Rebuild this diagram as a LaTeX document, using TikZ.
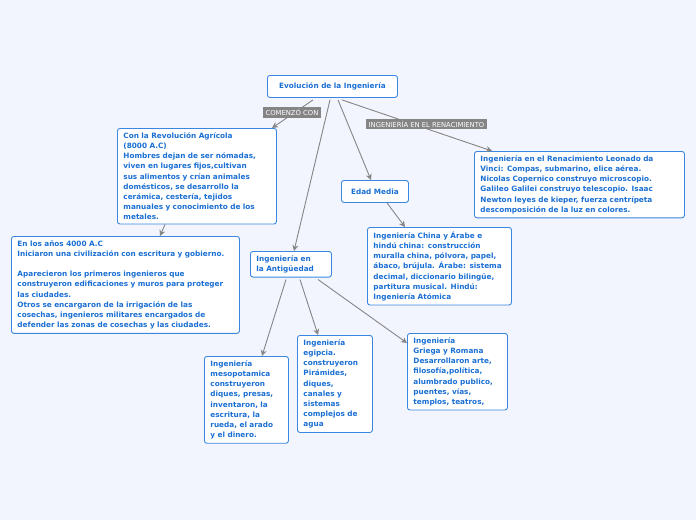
\documentclass[tikz,border=0pt]{standalone}
\usepackage{fontspec}
\setmainfont{DejaVu Sans}
\usetikzlibrary{arrows.meta,calc}
\hyphenpenalty=10000
\exhyphenpenalty=10000
\definecolor{bg}{HTML}{F2F5FD}
\definecolor{txt}{HTML}{1A6FD4}
\definecolor{bord}{HTML}{3A86E0}
\definecolor{lnk}{HTML}{858585}
\tikzset{
 box/.style={draw=bord,line width=0.9pt,fill=white,rounded corners=2.5pt,anchor=north west,
   inner xsep=6pt,inner ysep=4pt,align=left,text=txt,font=\bfseries\fontsize{7.3}{10.2}\selectfont},
 lab/.style={fill=lnk,text=white,inner xsep=3pt,inner ysep=2pt,font=\fontsize{6.8}{7}\selectfont},
 conn/.style={draw=lnk,line width=0.9pt,-{Stealth[length=6pt,width=6pt]}}
}
\begin{document}
\begin{tikzpicture}[x=1pt,y=-1pt]
\fill[bg] (0,0) rectangle (696,520);
\node[box,align=center,minimum width=130pt,minimum height=22pt] (root) at (267,75) {Evolución de la Ingeniería};
\node[box,text width=147pt] (agr) at (117,128) {Con la Revolución Agrícola\\(8000 A.C)\\Hombres dejan de ser nómadas, viven en lugares fijos,cultivan sus alimentos y crían animales domésticos, se desarrollo la cerámica, cestería, tejidos manuales y conocimiento de los metales.};
\node[box,text width=216pt] (a4000) at (11,236) {En los años 4000 A.C\\Iniciaron una civilización con escritura y gobierno.\\[10.2pt]Aparecieron los primeros ingenieros que construyeron edificaciones y muros para proteger las ciudades.\\Otros se encargaron de la irrigación de las cosechas, ingenieros militares encargados de defender las zonas de cosechas y las ciudades.};
\node[box,text width=69pt] (ant) at (250,251) {Ingeniería en\\la Antigüedad};
\node[box,align=center,minimum width=67pt,minimum height=22pt] (med) at (341,180) {Edad Media};
\node[box,text width=132pt] (chi) at (367,227) {Ingeniería China y Árabe e hindú china: construcción muralla china, pólvora, papel, ábaco, brújula. Árabe: sistema decimal, diccionario bilingüe, partitura musical. Hindú: Ingeniería Atómica};
\node[box,text width=198pt] (ren) at (474,151) {Ingeniería en el Renacimiento Leonado da Vinci: Compas, submarino, elice aérea. Nicolas Copernico construyo microscopio. Galileo Galilei construyo telescopio. Isaac Newton leyes de kieper, fuerza centrípeta descomposición de la luz en colores.};
\node[box,text width=72pt] (mes) at (204,356) {Ingeniería mesopotamica construyeron diques, presas, inventaron, la escritura, la rueda, el arado y el dinero.};
\node[box,text width=63pt] (egi) at (297,335) {Ingeniería egipcia. construyeron Pirámides, diques, canales y sistemas complejos de agua};
\node[box,text width=88pt] (gri) at (407,333) {Ingeniería Griega y Romana Desarrollaron arte, filosofía,política, alumbrado publico, puentes, vías, templos, teatros,};
\draw[conn] ($(root.south west)+(46,2)$) -- ($(agr.north west)+(155,0)$);
\draw[conn] ($(root.south west)+(75,2)$) -- ($(ren.north west)+(18,0)$);
\draw[conn] ($(root.south west)+(63,2)$) -- ($(ant.north west)+(44,0)$);
\draw[conn] ($(root.south west)+(71,2)$) -- ($(med.north west)+(30,0)$);
\draw[conn] ($(agr.south west)+(48,0)$) -- ($(a4000.north west)+(149,0)$);
\draw[conn] ($(med.south west)+(46,0)$) -- ($(chi.north west)+(38,0)$);
\draw[conn] ($(ant.south west)+(36,2)$) -- ($(mes.north west)+(58,0)$);
\draw[conn] ($(ant.south west)+(50,2)$) -- ($(egi.north west)+(21,0)$);
\draw[conn] ($(ant.south west)+(68,2)$) -- ($(gri.north west)+(0,10)$);
\node[lab] (l1) at (292,112.5) {COMENZÓ CON};
\node[lab] (l2) at (426.5,124) {INGENIERÍA EN EL RENACIMIENTO};
\end{tikzpicture}
\end{document}
